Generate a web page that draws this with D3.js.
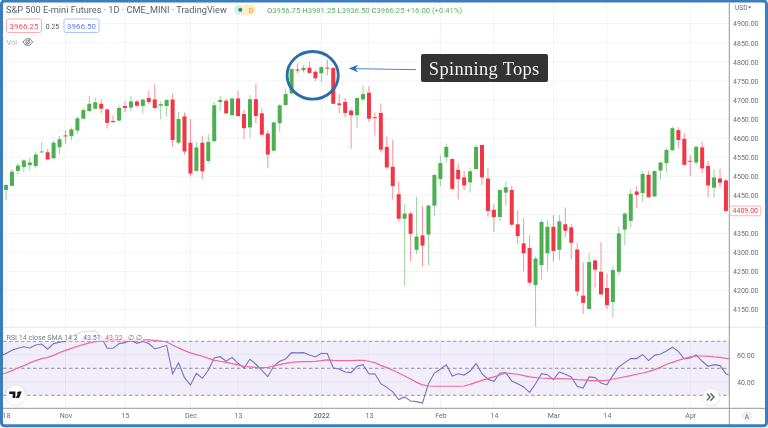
<!DOCTYPE html>
<html><head><meta charset="utf-8">
<script src="https://cdn.jsdelivr.net/npm/d3@7"></script>
<style>html,body{margin:0;padding:0;background:#fff}svg{display:block;filter:blur(0.3px)}text{font-family:Roboto,sans-serif}</style>
</head><body><svg id="c" width="768" height="428"></svg>
<script>
const opens=[4464,4475,4514,4524,4529,4527,4563,4563,4547,4576,4607,4605,4620,4651,4671,4677,4690,4675,4645,4646,4684,4680,4696,4684,4705,4701.5,4685,4684,4701,4588,4657,4588,4514,4588,4540,4592,4694.5,4698,4660,4704,4663,4628,4702,4665,4612,4567,4639,4686.6,4717,4780,4778,4784.5,4774,4770,4785,4784,4691,4695,4672,4660,4701.5,4719,4655,4666,4577,4525,4453,4388.5,4402,4307,4345,4347,4423,4492.5,4550,4545,4517,4497,4484,4519,4582,4494,4412,4393,4457,4464,4374,4324,4311.5,4214.5,4267,4298,4367.5,4307,4374,4366,4308,4187,4152,4279,4249.5,4207,4170,4249.5,4360,4383,4460,4456,4504,4447,4515,4534.5,4568,4621,4598,4540.6,4536,4575.6,4527,4470,4494,4489];
const closes=[4477,4512,4528,4541.5,4536,4557,4565,4544,4588,4597,4605,4623,4652,4673.5,4690,4694,4677,4640,4642,4679,4679,4696,4685,4701,4694.5,4679,4689,4700,4595,4650,4565,4507,4575.6,4513,4590,4686,4700,4665,4704,4658,4626,4702,4658,4609,4557,4641,4686,4715.5,4781,4777,4784,4771,4757,4786,4784,4690,4687,4666,4660,4705,4715.5,4651,4653,4569.5,4523,4474,4388.5,4402,4349,4342,4318,4423,4503,4534.5,4577,4467,4492.5,4476,4513,4577,4497,4409,4393,4464,4471,4373,4343,4298,4221,4284,4380,4367.5,4304,4381.5,4357,4325.6,4198,4168,4275,4255,4190,4162,4254,4350,4402,4454,4451,4506,4445,4513.5,4536,4568.6,4626,4595,4530,4539,4577,4520.5,4476,4497,4483,4409];
const highs=[4479,4518,4534,4545,4549,4564,4590,4571,4593,4606,4620,4628,4656,4678,4711,4707,4701.5,4678,4660,4686,4696,4710,4700,4703,4724,4741,4696,4702,4717,4669,4667,4650,4590.5,4605,4610.6,4695,4710,4704,4706,4725,4673.5,4713,4743,4678,4621,4643,4689,4730,4783,4796,4791.5,4800,4778,4790,4806,4785,4715.5,4706,4678,4707,4738,4736,4667,4691,4603.6,4595,4487,4427,4407,4446,4422,4425,4507,4555,4586,4547,4534,4514,4523,4583,4582.5,4520.5,4427,4465,4485,4474,4411,4390,4345,4289,4385,4385,4398,4398,4418,4374.5,4325.6,4274,4298,4282,4327,4244,4263,4368,4405,4466,4474,4513.5,4514,4516,4538,4574,4630,4628,4612,4555.5,4581,4590,4540.6,4518,4520,4492];
const lows=[4438,4474,4505,4511,4515,4522,4562,4542,4546,4558,4586,4594,4612,4649,4668,4675,4665,4625,4639,4644,4668,4671,4680.5,4664,4689,4675,4650,4656,4577,4583.5,4557,4499,4512,4492.6,4534,4590,4671,4663,4659,4656,4597,4601,4638.5,4605,4520.5,4566,4617,4685,4715,4770,4772,4770,4750,4747,4765,4689,4665,4654,4572,4627,4696,4642,4606,4562,4520,4439,4382,4213,4277,4296,4263,4266,4396,4474,4537,4464,4439,4464,4457,4517,4477,4394,4354,4383,4423,4367.5,4322,4250,4213,4105,4228.5,4251,4276,4279,4340,4282,4186,4139,4151,4208.5,4189,4152,4130,4240,4320,4365,4416,4433,4444.5,4446,4492.6,4510,4567,4573,4527.5,4501,4529,4508,4444.5,4443.6,4470,4405];
const rsiLead=58.9, rsiTrail=45;
const rsi=[60.9,63.3,64.8,66,65.1,67.3,68,64.1,68.3,69.3,70,73.7,75.7,77.2,77.4,77.7,73.2,64.8,64.8,68.3,69,71,68.5,69.8,68.3,64.3,65.6,67,45.8,54,43.1,37.7,46.3,42.6,48.5,57.7,58.6,55.2,58.1,53.7,50.2,56.7,53,48.5,43.8,51.7,55.2,56.9,61.6,61.4,61.6,59.9,58.4,61.1,60.9,50.2,49.5,47.3,46.8,51.5,52.7,45.8,46,38.6,35.9,32.5,26.8,28.8,25.8,25.3,24.3,38.6,46.5,49.3,52.5,44.3,46,45,48,53.5,46,41.9,40.4,46.3,46.8,40.6,38.6,36.2,32.2,38.6,46,45.3,41.6,47.3,45.6,43.6,36.7,35.4,43.6,43.1,39.1,37.7,44.8,51,54.2,57.2,57.2,60.1,55.7,59.6,60.6,62.8,65.6,62.6,56.9,57.7,59.9,55.2,51.5,52.7,52,46];
const smaLead=45.3, smaTrail=56.7;
const sma=[46.5,48.3,50.2,52,54,55.7,57.2,58.1,59.6,61.6,63.3,64.8,66.3,67.5,68.8,69.8,70.5,70.7,70.7,70.7,70.7,70.7,71,71,71,70.7,70.2,69.5,67.3,65.1,63.1,61.4,60.1,58.9,57.4,55.9,55.2,54.4,53.5,52.5,51.5,51,50.7,50.5,50.7,51.7,52.7,53.7,54.4,54.7,54.9,55,55.2,55.7,56.2,55.9,55.7,55.7,55.7,55.9,55.9,55.2,54.2,52.2,50.5,48.5,46.5,44.3,42.1,39.6,37.7,36.9,36.7,36.7,36.7,36.7,36.7,36.9,38.1,39.6,41.1,42.3,43.6,45,46.5,46,45.6,44.6,43.6,43.1,42.8,42.6,42.3,42.3,42.2,42.1,41.6,41.4,41,40.9,40.9,41.1,42.1,42.8,43.6,44.6,45.6,46.5,47.5,49,50.7,53,54.4,55.9,57.4,58.4,59.1,59.1,58.9,58.4,58.1,57.4];
const timeIdx=[0,10,20,31,39,53,61,73,82,92,101,115];
const timeLabels=["18","Nov","15","Dec","13","2022","13","Feb","14","Mar","14","Apr"];
const priceTicks=[4150,4200,4250,4300,4350,4400,4450,4500,4550,4600,4650,4700,4750,4800,4850,4900];
const rsiTicks=[40,60];
const rsiBands=[30,50,70];
const lastPrice=4409;

const svg=d3.select("#c");
const W=768,H=428,plotL=3,plotR=729.3,axisB=408.3,sep=327.2;
const x=d3.scaleLinear().domain([0,121]).range([6,725.95]);
const y=d3.scaleLinear().domain([4150,4900]).range([309.7,23.7]);
const yR=d3.scaleLinear().domain([30,70]).range([395.3,341.3]);
const G="#4caf50",R="#f23645",grid="#f0f3fa",txt="#6a6d78";
const defs=svg.append("defs");
defs.append("clipPath").attr("id","pc").append("rect").attr("x",plotL).attr("y",3).attr("width",plotR-plotL).attr("height",sep-3);
defs.append("clipPath").attr("id","rc").append("rect").attr("x",plotL).attr("y",sep).attr("width",plotR-plotL).attr("height",axisB-sep);
const sh=defs.append("filter").attr("id","sh").attr("x","-40%").attr("y","-40%").attr("width","180%").attr("height","180%");
sh.append("feDropShadow").attr("dx",0).attr("dy",0.5).attr("stdDeviation",1).attr("flood-color","#000").attr("flood-opacity",0.2);

// grid
svg.append("g").selectAll("line").data(timeIdx).join("line")
 .attr("x1",d=>x(d)).attr("x2",d=>x(d)).attr("y1",3).attr("y2",axisB).attr("stroke",grid).attr("stroke-width",1);
svg.append("g").selectAll("line").data(priceTicks).join("line")
 .attr("x1",plotL).attr("x2",plotR).attr("y1",d=>y(d)).attr("y2",d=>y(d)).attr("stroke",grid).attr("stroke-width",1);

// candles
const idx=d3.range(opens.length);
const cg=svg.append("g").attr("clip-path","url(#pc)");
cg.selectAll("line").data(idx).join("line")
 .attr("x1",i=>x(i)).attr("x2",i=>x(i)).attr("y1",i=>y(highs[i])).attr("y2",i=>y(lows[i]))
 .attr("stroke",i=>closes[i]>=opens[i]?G:R).attr("stroke-width",1).attr("stroke-opacity",0.55);
cg.selectAll("rect").data(idx).join("rect")
 .attr("x",i=>x(i)-2).attr("width",4)
 .attr("y",i=>y(Math.max(opens[i],closes[i])))
 .attr("height",i=>Math.max(1,Math.abs(y(opens[i])-y(closes[i]))))
 .attr("fill",i=>closes[i]>=opens[i]?G:R);

// RSI pane
svg.append("g").selectAll("line").data(rsiTicks).join("line")
 .attr("x1",plotL).attr("x2",plotR).attr("y1",d=>yR(d)).attr("y2",d=>yR(d)).attr("stroke",grid);
svg.append("rect").attr("x",plotL).attr("width",plotR-plotL).attr("y",yR(70)).attr("height",yR(30)-yR(70)).attr("fill","#7e57c2").attr("fill-opacity",0.1);
svg.append("g").selectAll("line").data(rsiBands).join("line")
 .attr("x1",plotL).attr("x2",plotR).attr("y1",d=>yR(d)).attr("y2",d=>yR(d))
 .attr("stroke","#787b86").attr("stroke-width",0.8).attr("stroke-dasharray","3.5,2.5");
const rg=svg.append("g").attr("clip-path","url(#rc)");
const ln=d3.line().x(d=>x(d[0])).y(d=>yR(d[1]));
const ext=(lead,a,trail)=>[[-1,lead],...a.map((v,i)=>[i,v]),[122,trail]];
const smaPts=ext(smaLead,sma,smaTrail), rsiPts=ext(rsiLead,rsi,rsiTrail);
rg.append("path").attr("d",ln(rsiPts.slice(0,-1).concat([[121.5,rsiTrail]]))).attr("fill","none").attr("stroke","#7b6fc6").attr("stroke-width",1.1);
rg.append("path").attr("d",ln(smaPts)).attr("fill","none").attr("stroke","#f0699b").attr("stroke-width",1.2);

// RSI legend, pale veil over the lines
const leg=svg.append("g");
leg.append("rect").attr("x",5).attr("y",329).attr("width",138).attr("height",12).attr("fill","#fff").attr("fill-opacity",0.72);
const lt=(s,xp,c)=>leg.append("text").attr("x",xp).attr("y",340.4).attr("font-size",7.1).attr("fill",c).text(s);
lt("RSI 14 close SMA 14 2",6.5,"#787b86");
lt("43.51",83,"#6a5fc1");
lt("43.32",105,"#f0508c");
lt("∅",127.5,"#787b86");
lt("∅",136,"#787b86");

// Axes
const pa=svg.append("g").attr("transform",`translate(${plotR},0)`)
 .call(d3.axisRight(y).tickValues(priceTicks.filter(d=>d!==4400)).tickSize(0).tickPadding(0).tickFormat(d3.format(".2f")));
const ra=svg.append("g").attr("transform",`translate(${plotR},0)`)
 .call(d3.axisRight(yR).tickValues(rsiTicks).tickSize(0).tickPadding(0).tickFormat(d3.format(".2f")));
[pa,ra].forEach(a=>{a.select(".domain").remove();a.selectAll("text").attr("x",16.5).attr("text-anchor","middle").attr("font-size",7).attr("font-family","Roboto").attr("fill",txt)});
const ta=svg.append("g").attr("transform",`translate(0,${axisB})`)
 .call(d3.axisBottom(x).tickValues(timeIdx).tickSize(0).tickPadding(0).tickFormat((d,i)=>timeLabels[i]));
ta.select(".domain").remove();
ta.selectAll("text").attr("y",7.4).attr("dy",".32em").attr("font-size",7).attr("font-family","Roboto").attr("fill",txt)
 .attr("font-weight",(d,i)=>timeLabels[i]==="2022"?600:400);

// pane frames
const fr=svg.append("g").attr("stroke-width",1);
fr.append("line").attr("x1",plotL).attr("x2",765).attr("y1",sep).attr("y2",sep).attr("stroke","#e3e6ee");
fr.append("line").attr("x1",plotL).attr("x2",765).attr("y1",axisB).attr("y2",axisB).attr("stroke","#9598a1");
fr.append("line").attr("x1",plotR).attr("x2",plotR).attr("y1",3).attr("y2",425).attr("stroke","#9598a1");

// Last price label
svg.append("rect").attr("x",729.8).attr("y",y(lastPrice)-4.8).attr("width",31).attr("height",9.6).attr("rx",1.5).attr("fill","#fff").attr("stroke","#f9a0a8").attr("stroke-width",0.8);
svg.append("text").attr("x",745.3).attr("y",y(lastPrice)+2.5).attr("text-anchor","middle").attr("font-size",7).attr("fill",R).text(d3.format(".2f")(lastPrice));
svg.append("text").attr("x",735).attr("y",10).attr("font-size",6.6).attr("fill",txt).text("USD");
svg.append("path").attr("d","M748 6.6h3.4l-1.7 1.9z").attr("fill",txt);

// A badge
svg.append("circle").attr("cx",747).attr("cy",416).attr("r",5).attr("fill","#eceef4");
svg.append("text").attr("x",747).attr("y",418.5).attr("text-anchor","middle").attr("font-size",6.6).attr("fill","#6a6d78").text("A");

// Header
const head=svg.append("g");
head.append("text").attr("x",6).attr("y",13).attr("font-size",9.2).attr("fill","#5d606b").text("S&P 500 E-mini Futures · 1D · CME_MINI · TradingView");
head.append("path").attr("d","M240 4.8h-1a5 5 0 0 0 0 10h1z").attr("fill","#d5efea");
head.append("path").attr("d","M240 4.8h11a5 5 0 0 1 0 10h-11z").attr("fill","#ffeccc");
head.append("circle").attr("cx",240.3).attr("cy",9.8).attr("r",2.1).attr("fill","#12998a");
head.append("text").attr("x",251).attr("y",12.6).attr("text-anchor","middle").attr("font-size",7.6).attr("fill","#ff9800").text("D");
const ohlc=head.append("text").attr("x",267).attr("y",13).attr("font-size",7.7).attr("fill","#5cb860");
[["O","3956.75 "],["H","3981.25 "],["L","3936.50 "],["C","3966.25 "]].forEach(p=>{
 ohlc.append("tspan").attr("fill","#787b86").text(p[0]);
 ohlc.append("tspan").text(p[1]+" ");
});
ohlc.append("tspan").text("+16.00 (+0.41%)");

head.append("rect").attr("x",6.5).attr("y",19).attr("width",35).attr("height",13.5).attr("rx",2).attr("fill","#fff").attr("stroke","#f7a5ad").attr("stroke-width",0.9);
head.append("text").attr("x",24).attr("y",29).attr("text-anchor","middle").attr("font-size",8).attr("fill","#f2505f").text("3966.25");
head.append("text").attr("x",52.5).attr("y",28.6).attr("text-anchor","middle").attr("font-size",6.8).attr("fill","#50535e").text("0.25");
head.append("rect").attr("x",64).attr("y",19).attr("width",35).attr("height",13.5).attr("rx",2).attr("fill","#fff").attr("stroke","#a7bcf5").attr("stroke-width",0.9);
head.append("text").attr("x",81.5).attr("y",29).attr("text-anchor","middle").attr("font-size",8).attr("fill","#5a7ff0").text("3966.50");
head.append("text").attr("x",6.5).attr("y",45).attr("font-size",7.4).attr("fill","#b2b5be").text("Vol");
head.append("path").attr("d","M23 42c3-4.5 7-4.5 9.5 0c-2.5 4.5-6.5 4.5-9.5 0zM25 45.5l5.5-7").attr("fill","none").attr("stroke","#787b86").attr("stroke-width",1);
head.append("circle").attr("cx",27.6).attr("cy",42).attr("r",1.9).attr("fill","none").attr("stroke","#787b86").attr("stroke-width",0.9);

// Annotation
svg.append("ellipse").attr("cx",312.7).attr("cy",75.3).attr("rx",25.6).attr("ry",23.8).attr("fill","none").attr("stroke","#2b6cab").attr("stroke-width",2.9);
svg.append("line").attr("x1",356).attr("y1",68.7).attr("x2",416).attr("y2",69.7).attr("stroke","#4a86c5").attr("stroke-width",1);
svg.append("path").attr("d","M348.8 68.5L358 64.8L355.6 68.6L358 72.3z").attr("fill","#2f73b5");
svg.append("rect").attr("x",421).attr("y",54).attr("width",127).attr("height",28).attr("rx",2).attr("fill","#333333");
svg.append("text").attr("x",484.2).attr("y",75).attr("text-anchor","middle").attr("font-size",18.4).attr("letter-spacing",0.35).attr("fill","#f5f5f5").text("Spinning Tops").style("font-family","Liberation Serif");

// TV logo
svg.append("circle").attr("cx",15.6).attr("cy",395).attr("r",9.4).attr("fill","#fff").attr("filter","url(#sh)");
svg.append("path").attr("d","M9.2 391.5h6.2v6.6h-2.7v-4.2h-3.5zM15.9 398.1l2.7-6.6h3.2l-2.8 6.6z").attr("fill","#131722");
svg.append("circle").attr("cx",18.3).attr("cy",392.9).attr("r",1.1).attr("fill","#131722");

// scroll button
svg.append("circle").attr("cx",711.3).attr("cy",397).attr("r",8).attr("fill","#fff").attr("filter","url(#sh)");
svg.append("path").attr("d","M706.9 393.6l3.2 3.4l-3.2 3.4M710.4 393.2l3.6 3.8l-3.6 3.8").attr("fill","none").attr("stroke","#50535e").attr("stroke-width",1.3);

// outer border
svg.append("rect").attr("x",1.5).attr("y",1).attr("width",765).attr("height",424.8).attr("rx",3).attr("fill","none").attr("stroke","#3c7dc0").attr("stroke-width",3);
</script></body></html>
